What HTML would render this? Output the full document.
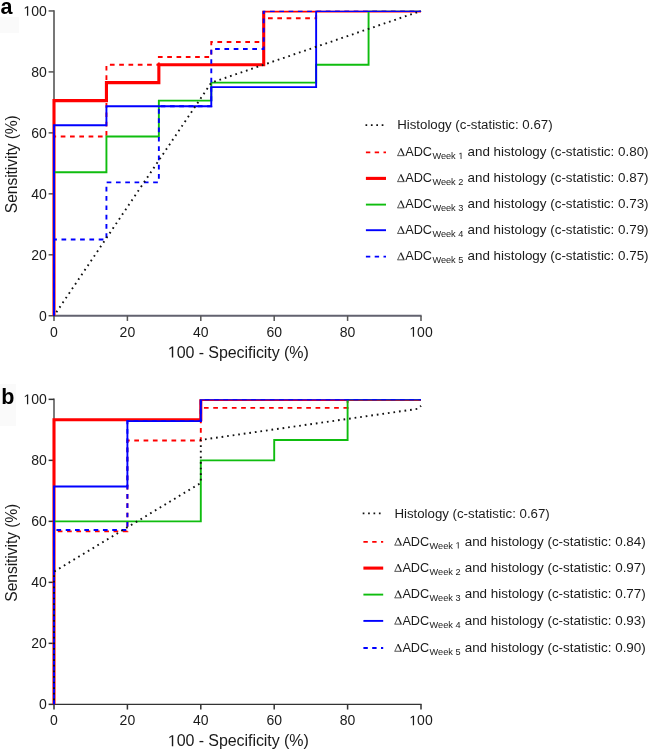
<!DOCTYPE html>
<html><head><meta charset="utf-8"><style>
html,body{margin:0;padding:0;background:#fff;}
body{width:649px;height:752px;overflow:hidden;}
svg{display:block;will-change:transform;}
text{font-family:"Liberation Sans",sans-serif;fill:#1a1a1a;}
.tk{font-size:14px;}
.ti{font-size:16px;}
.tiy{font-size:15.7px;}
.lg{font-size:13.25px;}
.sb{font-size:9.2px;}
.adc{font-size:12.7px;}
.lg2{font-size:13.42px;}
.pl{font-size:21.5px;font-weight:bold;fill:#000;}
</style></head><body>
<svg width="649" height="752" viewBox="0 0 649 752">
<rect width="649" height="752" fill="#fff"/>
<rect x="0" y="17" width="19" height="16" fill="#fafafa"/>
<rect x="0" y="384" width="16" height="42" fill="#fafafa"/>
<line x1="54" y1="10.15" x2="54" y2="315.75" stroke="#777" stroke-width="2"/>
<line x1="53" y1="315.75" x2="421.60" y2="315.75" stroke="#62626f" stroke-width="2"/>
<line x1="48.6" y1="315.75" x2="54" y2="315.75" stroke="#555" stroke-width="1.5"/>
<line x1="54.00" y1="315.75" x2="54.00" y2="320.95" stroke="#555" stroke-width="1.5"/>
<text x="46.8" y="320.65" text-anchor="end" class="tk">0</text>
<text x="54.00" y="336.75" text-anchor="middle" class="tk">0</text>
<line x1="48.6" y1="254.79" x2="54" y2="254.79" stroke="#555" stroke-width="1.5"/>
<line x1="127.40" y1="315.75" x2="127.40" y2="320.95" stroke="#555" stroke-width="1.5"/>
<text x="46.8" y="259.69" text-anchor="end" class="tk">20</text>
<text x="127.40" y="336.75" text-anchor="middle" class="tk">20</text>
<line x1="48.6" y1="193.83" x2="54" y2="193.83" stroke="#555" stroke-width="1.5"/>
<line x1="200.80" y1="315.75" x2="200.80" y2="320.95" stroke="#555" stroke-width="1.5"/>
<text x="46.8" y="198.73" text-anchor="end" class="tk">40</text>
<text x="200.80" y="336.75" text-anchor="middle" class="tk">40</text>
<line x1="48.6" y1="132.87" x2="54" y2="132.87" stroke="#555" stroke-width="1.5"/>
<line x1="274.20" y1="315.75" x2="274.20" y2="320.95" stroke="#555" stroke-width="1.5"/>
<text x="46.8" y="137.77" text-anchor="end" class="tk">60</text>
<text x="274.20" y="336.75" text-anchor="middle" class="tk">60</text>
<line x1="48.6" y1="71.91" x2="54" y2="71.91" stroke="#555" stroke-width="1.5"/>
<line x1="347.60" y1="315.75" x2="347.60" y2="320.95" stroke="#555" stroke-width="1.5"/>
<text x="46.8" y="76.81" text-anchor="end" class="tk">80</text>
<text x="347.60" y="336.75" text-anchor="middle" class="tk">80</text>
<line x1="48.6" y1="10.95" x2="54" y2="10.95" stroke="#555" stroke-width="1.5"/>
<line x1="421.00" y1="315.75" x2="421.00" y2="320.95" stroke="#555" stroke-width="1.5"/>
<path transform="translate(23.44 15.85) scale(0.006836 -0.006836)" d="M515 0V1237L197 1010V1180L530 1409H696V0Z" fill="#1a1a1a"/>
<text x="31.23" y="15.85" class="tk">00</text>
<path transform="translate(409.32 336.75) scale(0.006836 -0.006836)" d="M515 0V1237L197 1010V1180L530 1409H696V0Z" fill="#1a1a1a"/>
<text x="417.11" y="336.75" class="tk">00</text>
<path transform="translate(167.80 357.55) scale(0.007812 -0.007812)" d="M515 0V1237L197 1010V1180L530 1409H696V0Z" fill="#1a1a1a"/>
<text x="176.63" y="357.55" class="ti" textLength="132.17" lengthAdjust="spacing">00 - Specificity (%)</text>
<text transform="translate(16.65 164.15) rotate(-90)" text-anchor="middle" class="tiy" textLength="98" lengthAdjust="spacing">Sensitivity (%)</text>
<text x="0.6" y="13.6" class="pl">a</text>
<clipPath id="ca"><rect x="0" y="10.80" width="649" height="314.80"/></clipPath><g clip-path="url(#ca)">
<path d="M54.00 315.75 L54.00 100.59 L106.43 100.59 L106.43 82.67 L158.86 82.67 L158.86 64.75 L263.71 64.75 L263.71 10.95 L421.00 10.95" fill="none" stroke="#ff0000" stroke-width="3.1" stroke-linejoin="miter"/>
<path d="M54.00 315.75 L54.00 136.47 L106.43 136.47 L106.43 64.75 L158.86 64.75 L158.86 56.97 L211.29 56.97 L211.29 42.04 L263.71 42.04 L263.71 18.27 L316.14 18.27 L316.14 10.95 L421.00 10.95" fill="none" stroke="#ff0000" stroke-width="1.9" stroke-dasharray="4.7 4.6" stroke-linejoin="miter"/>
<path d="M54.00 315.75 L54.00 172.31 L106.43 172.31 L106.43 136.47 L158.86 136.47 L158.86 100.59 L211.29 100.59 L211.29 82.67 L316.14 82.67 L316.14 64.75 L368.57 64.75 L368.57 10.95 L421.00 10.95" fill="none" stroke="#0fbd0f" stroke-width="1.9" stroke-linejoin="miter"/>
<path d="M54.00 315.75 L54.00 125.25 L106.43 125.25 L106.43 106.20 L211.29 106.20 L211.29 87.15 L316.14 87.15 L316.14 10.95 L421.00 10.95" fill="none" stroke="#0000ff" stroke-width="1.9" stroke-linejoin="miter"/>
<path d="M54.00 315.75 L54.00 239.55 L106.43 239.55 L106.43 182.40 L158.86 182.40 L158.86 106.20 L211.29 106.20 L211.29 49.05 L263.71 49.05 L263.71 10.95 L421.00 10.95" fill="none" stroke="#0000ff" stroke-width="1.9" stroke-dasharray="4.7 4.6" stroke-linejoin="miter"/>
<path d="M54.00 315.75 L211.29 82.67 L421.00 10.95" fill="none" stroke="#111" stroke-width="1.9" stroke-dasharray="1.7 3.9" stroke-dashoffset="-4.2" stroke-linejoin="miter"/>
</g>
<path d="M365.5 125.1 L384.00 125.1" stroke="#111" stroke-width="1.9" stroke-dasharray="1.7 3.7" stroke-dashoffset="0"/>
<text x="397.2" y="129.20" class="lg">Histology (c-statistic: 0.67)</text>
<path d="M365.9 152.4 L386 152.4" stroke="#ff0000" stroke-width="1.9" stroke-dasharray="4.4 4.4"/>
<path d="M397.65 155.65 L400.95 148.50" stroke="#333" stroke-width="0.8" fill="none"/>
<path d="M400.80 148.60 L404.00 155.60" stroke="#1a1a1a" stroke-width="1.25" fill="none"/>
<path d="M397.30 155.65 L404.60 155.65" stroke="#444" stroke-width="0.9" fill="none"/>
<text x="405.20" y="156.10" class="adc">ADC</text>
<text x="432.40" y="159.00" class="sb">Week</text>
<path transform="translate(458.32 159.00) scale(0.004492 -0.004492)" d="M515 0V1237L197 1010V1180L530 1409H696V0Z" fill="#1a1a1a"/>
<text x="467.50" y="156.10" class="lg2">and histology (c-statistic: 0.80)</text>
<path d="M365.9 178.4 L386 178.4" stroke="#ff0000" stroke-width="3.1"/>
<path d="M397.65 181.65 L400.95 174.50" stroke="#333" stroke-width="0.8" fill="none"/>
<path d="M400.80 174.60 L404.00 181.60" stroke="#1a1a1a" stroke-width="1.25" fill="none"/>
<path d="M397.30 181.65 L404.60 181.65" stroke="#444" stroke-width="0.9" fill="none"/>
<text x="405.20" y="182.10" class="adc">ADC</text>
<text x="432.40" y="185.00" class="sb">Week 2</text>
<text x="467.50" y="182.10" class="lg2">and histology (c-statistic: 0.87)</text>
<path d="M365.9 204.6 L386 204.6" stroke="#0fbd0f" stroke-width="1.9"/>
<path d="M397.65 207.85 L400.95 200.70" stroke="#333" stroke-width="0.8" fill="none"/>
<path d="M400.80 200.80 L404.00 207.80" stroke="#1a1a1a" stroke-width="1.25" fill="none"/>
<path d="M397.30 207.85 L404.60 207.85" stroke="#444" stroke-width="0.9" fill="none"/>
<text x="405.20" y="208.30" class="adc">ADC</text>
<text x="432.40" y="211.20" class="sb">Week 3</text>
<text x="467.50" y="208.30" class="lg2">and histology (c-statistic: 0.73)</text>
<path d="M365.9 230.2 L386 230.2" stroke="#0000ff" stroke-width="1.9"/>
<path d="M397.65 233.45 L400.95 226.30" stroke="#333" stroke-width="0.8" fill="none"/>
<path d="M400.80 226.40 L404.00 233.40" stroke="#1a1a1a" stroke-width="1.25" fill="none"/>
<path d="M397.30 233.45 L404.60 233.45" stroke="#444" stroke-width="0.9" fill="none"/>
<text x="405.20" y="233.90" class="adc">ADC</text>
<text x="432.40" y="236.80" class="sb">Week 4</text>
<text x="467.50" y="233.90" class="lg2">and histology (c-statistic: 0.79)</text>
<path d="M365.9 256.6 L386 256.6" stroke="#0000ff" stroke-width="1.9" stroke-dasharray="4.4 4.4"/>
<path d="M397.65 259.85 L400.95 252.70" stroke="#333" stroke-width="0.8" fill="none"/>
<path d="M400.80 252.80 L404.00 259.80" stroke="#1a1a1a" stroke-width="1.25" fill="none"/>
<path d="M397.30 259.85 L404.60 259.85" stroke="#444" stroke-width="0.9" fill="none"/>
<text x="405.20" y="260.30" class="adc">ADC</text>
<text x="432.40" y="263.20" class="sb">Week 5</text>
<text x="467.50" y="260.30" class="lg2">and histology (c-statistic: 0.75)</text>
<line x1="54" y1="398.55" x2="54" y2="704.35" stroke="#444" stroke-width="1.4"/>
<line x1="53" y1="704.35" x2="421.60" y2="704.35" stroke="#333" stroke-width="1.4"/>
<line x1="48.6" y1="704.35" x2="54" y2="704.35" stroke="#333" stroke-width="1.5"/>
<line x1="54.00" y1="704.35" x2="54.00" y2="709.55" stroke="#333" stroke-width="1.5"/>
<text x="46.8" y="709.25" text-anchor="end" class="tk">0</text>
<text x="54.00" y="725.35" text-anchor="middle" class="tk">0</text>
<line x1="48.6" y1="643.35" x2="54" y2="643.35" stroke="#333" stroke-width="1.5"/>
<line x1="127.40" y1="704.35" x2="127.40" y2="709.55" stroke="#333" stroke-width="1.5"/>
<text x="46.8" y="648.25" text-anchor="end" class="tk">20</text>
<text x="127.40" y="725.35" text-anchor="middle" class="tk">20</text>
<line x1="48.6" y1="582.35" x2="54" y2="582.35" stroke="#333" stroke-width="1.5"/>
<line x1="200.80" y1="704.35" x2="200.80" y2="709.55" stroke="#333" stroke-width="1.5"/>
<text x="46.8" y="587.25" text-anchor="end" class="tk">40</text>
<text x="200.80" y="725.35" text-anchor="middle" class="tk">40</text>
<line x1="48.6" y1="521.35" x2="54" y2="521.35" stroke="#333" stroke-width="1.5"/>
<line x1="274.20" y1="704.35" x2="274.20" y2="709.55" stroke="#333" stroke-width="1.5"/>
<text x="46.8" y="526.25" text-anchor="end" class="tk">60</text>
<text x="274.20" y="725.35" text-anchor="middle" class="tk">60</text>
<line x1="48.6" y1="460.35" x2="54" y2="460.35" stroke="#333" stroke-width="1.5"/>
<line x1="347.60" y1="704.35" x2="347.60" y2="709.55" stroke="#333" stroke-width="1.5"/>
<text x="46.8" y="465.25" text-anchor="end" class="tk">80</text>
<text x="347.60" y="725.35" text-anchor="middle" class="tk">80</text>
<line x1="48.6" y1="399.35" x2="54" y2="399.35" stroke="#333" stroke-width="1.5"/>
<line x1="421.00" y1="704.35" x2="421.00" y2="709.55" stroke="#333" stroke-width="1.5"/>
<path transform="translate(23.44 404.25) scale(0.006836 -0.006836)" d="M515 0V1237L197 1010V1180L530 1409H696V0Z" fill="#1a1a1a"/>
<text x="31.23" y="404.25" class="tk">00</text>
<path transform="translate(409.32 725.35) scale(0.006836 -0.006836)" d="M515 0V1237L197 1010V1180L530 1409H696V0Z" fill="#1a1a1a"/>
<text x="417.11" y="725.35" class="tk">00</text>
<path transform="translate(167.80 746.15) scale(0.007812 -0.007812)" d="M515 0V1237L197 1010V1180L530 1409H696V0Z" fill="#1a1a1a"/>
<text x="176.63" y="746.15" class="ti" textLength="132.17" lengthAdjust="spacing">00 - Specificity (%)</text>
<text transform="translate(16.65 552.65) rotate(-90)" text-anchor="middle" class="tiy" textLength="98" lengthAdjust="spacing">Sensitivity (%)</text>
<text x="1.2" y="404.2" class="pl">b</text>
<clipPath id="cb"><rect x="0" y="399.20" width="649" height="315.00"/></clipPath><g clip-path="url(#cb)">
<path d="M54.00 704.35 L54.00 419.69 L200.80 419.69 L200.80 399.35 L421.00 399.35" fill="none" stroke="#ff0000" stroke-width="3.1" stroke-linejoin="miter"/>
<path d="M54.00 704.35 L54.00 531.41 L127.40 531.41 L127.40 440.53 L200.80 440.53 L200.80 407.89 L347.60 407.89 L347.60 399.35 L421.00 399.35" fill="none" stroke="#ff0000" stroke-width="1.9" stroke-dasharray="4.7 4.6" stroke-linejoin="miter"/>
<path d="M54.00 704.35 L54.00 521.35 L200.80 521.35 L200.80 460.35 L274.20 460.35 L274.20 440.01 L347.60 440.01 L347.60 399.35 L421.00 399.35" fill="none" stroke="#0fbd0f" stroke-width="1.9" stroke-linejoin="miter"/>
<path d="M54.00 704.35 L54.00 486.49 L127.40 486.49 L127.40 421.13 L200.80 421.13 L200.80 399.35 L421.00 399.35" fill="none" stroke="#0000ff" stroke-width="1.9" stroke-linejoin="miter"/>
<path d="M54.00 704.35 L54.00 530.07 L127.40 530.07 L127.40 421.13 L200.80 421.13 L200.80 399.35 L421.00 399.35" fill="none" stroke="#0000ff" stroke-width="1.9" stroke-dasharray="4.7 4.6" stroke-linejoin="miter"/>
<path d="M54.00 704.35 L54.00 571.68 L200.80 482.92 L200.80 439.92 L418.06 408.81 L421.00 405.75" fill="none" stroke="#111" stroke-width="1.9" stroke-dasharray="1.7 3.9" stroke-dashoffset="-4.2" stroke-linejoin="miter"/>
</g>
<path d="M362.7 513.4 L381.20 513.4" stroke="#111" stroke-width="1.9" stroke-dasharray="1.7 3.7" stroke-dashoffset="0"/>
<text x="394.4" y="517.50" class="lg">Histology (c-statistic: 0.67)</text>
<path d="M363.4 541.9 L383.2 541.9" stroke="#ff0000" stroke-width="1.9" stroke-dasharray="4.4 4.4"/>
<path d="M394.85 545.15 L398.15 538.00" stroke="#333" stroke-width="0.8" fill="none"/>
<path d="M398.00 538.10 L401.20 545.10" stroke="#1a1a1a" stroke-width="1.25" fill="none"/>
<path d="M394.50 545.15 L401.80 545.15" stroke="#444" stroke-width="0.9" fill="none"/>
<text x="402.40" y="545.60" class="adc">ADC</text>
<text x="429.60" y="548.50" class="sb">Week</text>
<path transform="translate(455.52 548.50) scale(0.004492 -0.004492)" d="M515 0V1237L197 1010V1180L530 1409H696V0Z" fill="#1a1a1a"/>
<text x="464.70" y="545.60" class="lg2">and histology (c-statistic: 0.84)</text>
<path d="M363.4 568.1 L383.2 568.1" stroke="#ff0000" stroke-width="3.1"/>
<path d="M394.85 571.35 L398.15 564.20" stroke="#333" stroke-width="0.8" fill="none"/>
<path d="M398.00 564.30 L401.20 571.30" stroke="#1a1a1a" stroke-width="1.25" fill="none"/>
<path d="M394.50 571.35 L401.80 571.35" stroke="#444" stroke-width="0.9" fill="none"/>
<text x="402.40" y="571.80" class="adc">ADC</text>
<text x="429.60" y="574.70" class="sb">Week 2</text>
<text x="464.70" y="571.80" class="lg2">and histology (c-statistic: 0.97)</text>
<path d="M363.4 594.6 L383.2 594.6" stroke="#0fbd0f" stroke-width="1.9"/>
<path d="M394.85 597.85 L398.15 590.70" stroke="#333" stroke-width="0.8" fill="none"/>
<path d="M398.00 590.80 L401.20 597.80" stroke="#1a1a1a" stroke-width="1.25" fill="none"/>
<path d="M394.50 597.85 L401.80 597.85" stroke="#444" stroke-width="0.9" fill="none"/>
<text x="402.40" y="598.30" class="adc">ADC</text>
<text x="429.60" y="601.20" class="sb">Week 3</text>
<text x="464.70" y="598.30" class="lg2">and histology (c-statistic: 0.77)</text>
<path d="M363.4 620.9 L383.2 620.9" stroke="#0000ff" stroke-width="1.9"/>
<path d="M394.85 624.15 L398.15 617.00" stroke="#333" stroke-width="0.8" fill="none"/>
<path d="M398.00 617.10 L401.20 624.10" stroke="#1a1a1a" stroke-width="1.25" fill="none"/>
<path d="M394.50 624.15 L401.80 624.15" stroke="#444" stroke-width="0.9" fill="none"/>
<text x="402.40" y="624.60" class="adc">ADC</text>
<text x="429.60" y="627.50" class="sb">Week 4</text>
<text x="464.70" y="624.60" class="lg2">and histology (c-statistic: 0.93)</text>
<path d="M363.4 648.0 L383.2 648.0" stroke="#0000ff" stroke-width="1.9" stroke-dasharray="4.4 4.4"/>
<path d="M394.85 651.25 L398.15 644.10" stroke="#333" stroke-width="0.8" fill="none"/>
<path d="M398.00 644.20 L401.20 651.20" stroke="#1a1a1a" stroke-width="1.25" fill="none"/>
<path d="M394.50 651.25 L401.80 651.25" stroke="#444" stroke-width="0.9" fill="none"/>
<text x="402.40" y="651.70" class="adc">ADC</text>
<text x="429.60" y="654.60" class="sb">Week 5</text>
<text x="464.70" y="651.70" class="lg2">and histology (c-statistic: 0.90)</text>
</svg>
</body></html>
